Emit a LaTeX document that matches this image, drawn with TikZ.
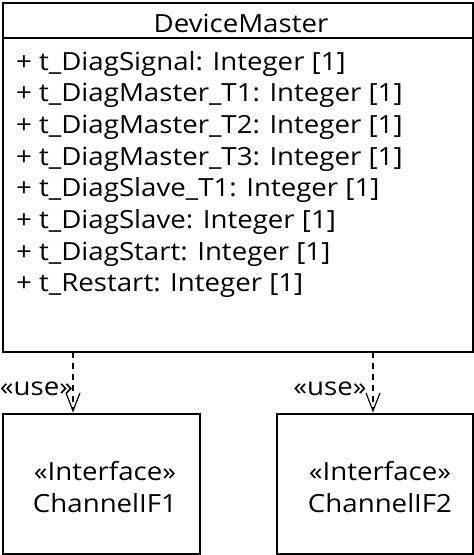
\documentclass[tikz,border=0pt]{standalone}
\usepackage{fontspec}
\setmainfont[FakeStretch=1.106]{Open Sans}
\usetikzlibrary{arrows.meta}
\tikzset{
  box/.style={draw=black, line width=1.6pt, fill=white, inner sep=0pt, anchor=north west},
  attr/.style={anchor=base west, inner sep=0pt, font=\fontsize{25}{30}\selectfont},
  lbl/.style={anchor=base, inner sep=0pt, font=\fontsize{25}{30}\selectfont},
  usearrow/.style={draw=black, line width=1.2pt, dash pattern=on 6pt off 5pt, -{Straight Barb[length=18pt,width=14pt,line width=1.2pt]}}
}
\begin{document}
\begin{tikzpicture}[x=1pt,y=-1pt]
\useasboundingbox (0,0) rectangle (474,555);
\fill[white] (0,0) rectangle (474,555);
% main class
\node[box, minimum width=470pt, minimum height=349pt] (master) at (2,2) {};
\coordinate (sepL) at (2,38);
\coordinate (sepR) at (472,38);
\draw[line width=1.4pt] (sepL) -- (sepR);
\node[lbl] (title) at (241,32) {DeviceMaster};
\node[attr] (a1) at (16,70) {+ t\_DiagSignal: Integer [1]};
\node[attr] (a2) at (16,101.7) {+ t\_DiagMaster\_T1: Integer [1]};
\node[attr] (a3) at (16,133.4) {+ t\_DiagMaster\_T2: Integer [1]};
\node[attr] (a4) at (16,165.1) {+ t\_DiagMaster\_T3: Integer [1]};
\node[attr] (a5) at (16,196.8) {+ t\_DiagSlave\_T1: Integer [1]};
\node[attr] (a6) at (16,228.5) {+ t\_DiagSlave: Integer [1]};
\node[attr] (a7) at (16,260.2) {+ t\_DiagStart: Integer [1]};
\node[attr] (a8) at (16,291.9) {+ t\_Restart: Integer [1]};
% interfaces
\node[box, minimum width=197pt, minimum height=140pt] (if1) at (2,413) {};
\node[box, minimum width=196pt, minimum height=140pt] (if2) at (276,413) {};
\node[lbl] (s1) at (105,480) {«Interface»};
\node[lbl] (n1) at (105,512) {ChannelIF1};
\node[lbl] (s2) at (380,480) {«Interface»};
\node[lbl] (n2) at (380,512) {ChannelIF2};
% dependencies
\coordinate (d1s) at (73,352);
\coordinate (d1e) at (73,412.5);
\coordinate (d2s) at (373,352);
\coordinate (d2e) at (373,412.5);
\draw[usearrow] (d1s) -- (d1e);
\draw[usearrow] (d2s) -- (d2e);
\node[lbl] (u1) at (36.5,395) {«use»};
\node[lbl] (u2) at (330,395) {«use»};
\end{tikzpicture}
\end{document}
